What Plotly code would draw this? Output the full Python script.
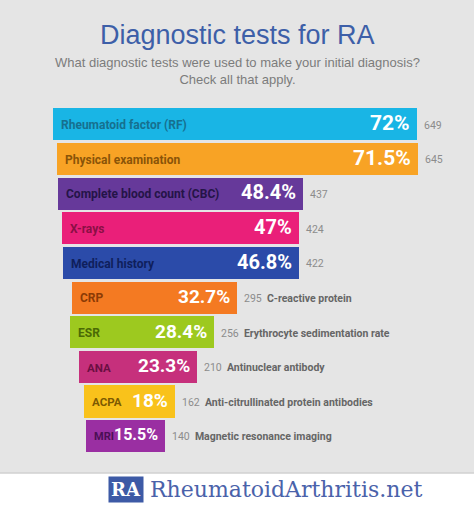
import plotly.graph_objects as go

# ---- data ----
tests = ["Rheumatoid factor (RF)", "Physical examination", "Complete blood count (CBC)",
         "X-rays", "Medical history", "CRP", "ESR", "ANA", "ACPA", "MRI"]
percents = [72, 71.5, 48.4, 47, 46.8, 32.7, 28.4, 23.3, 18, 15.5]
percent_labels = ["72%", "71.5%", "48.4%", "47%", "46.8%", "32.7%", "28.4%", "23.3%", "18%", "15.5%"]
counts = [649, 645, 437, 424, 422, 295, 256, 210, 162, 140]
descriptions = ["", "", "", "", "", "C-reactive protein", "Erythrocyte sedimentation rate",
                "Antinuclear antibody", "Anti-citrullinated protein antibodies",
                "Magnetic resonance imaging"]

# ---- styling ----
bar_colors = ["#19b5e5", "#f8a325", "#66399a", "#ea1f79", "#2b4ba9",
              "#f47a22", "#9dc91f", "#c6307c", "#f9c21b", "#9a2fa2"]
label_colors = ["#16708f", "#8a5408", "#241447", "#8a0f45", "#0f1f5c",
                "#8c3a05", "#4b6a05", "#6a0f42", "#7c5a02", "#4a0f55"]
row_indent = [0, 0.8, 1.0, 1.8, 2.0, 3.8, 3.4, 5.2, 6.2, 6.6]  # ribbon stagger
pct_sizes = [21, 21, 20, 20, 20, 19, 19, 19, 19, 16]
label_sizes = [12, 12, 12, 12, 12, 12, 12, 11.5, 11.5, 11]
COND = "Roboto, Liberation Sans, sans-serif"

fig = go.Figure()
fig.add_trace(go.Bar(
    y=tests, x=percents, base=row_indent, orientation="h",
    marker=dict(color=bar_colors, line=dict(width=0)),
    width=0.93, cliponaxis=False, hoverinfo="skip",
))

annotations = []
for t, v, b, c, lc, d, pl, ps, ls in zip(tests, percents, row_indent, counts, label_colors,
                                          descriptions, percent_labels, pct_sizes, label_sizes):
    annotations.append(dict(
        x=b, y=t, xref="x", yref="y", xanchor="left", yanchor="middle", xshift=6, yshift=-1,
        text=t, showarrow=False,
        font=dict(family=COND, size=ls, color=lc, weight="bold")))
    annotations.append(dict(
        x=b + v, y=t, xref="x", yref="y", xanchor="right", yanchor="middle", xshift=-5, yshift=1,
        text=pl, showarrow=False,
        font=dict(family=COND, size=ps, color="white", weight="bold")))
    txt = f"{c}"
    if d:
        txt += f"  <span style='color:#666666;font-weight:bold'>{d}</span>"
    annotations.append(dict(
        x=b + v, y=t, xref="x", yref="y", xanchor="left", yanchor="middle", xshift=5, yshift=-1,
        text=txt, showarrow=False,
        font=dict(family=COND, size=10.5, color="#8c8c8c")))

annotations += [
    dict(x=0.5, y=1 - 35 / 507, xref="paper", yref="paper", xanchor="center", yanchor="middle",
         text="Diagnostic tests for RA", showarrow=False,
         font=dict(family="Liberation Sans, Arial, sans-serif", size=27, color="#3d5fa8")),
    dict(x=0.5, y=1 - 71 / 507, xref="paper", yref="paper", xanchor="center", yanchor="middle",
         text="What diagnostic tests were used to make your initial diagnosis?<br>Check all that apply.",
         showarrow=False,
         font=dict(family="Liberation Sans, Arial, sans-serif", size=13, color="#7c7c7c")),
    dict(x=126 / 474, y=1 - 489 / 507, xref="paper", yref="paper", xanchor="center", yanchor="middle",
         text="<b>RA</b>", showarrow=False, bgcolor="#3d5aa6", borderpad=2,
         font=dict(family="DejaVu Serif, serif", size=18, color="white")),
    dict(x=148 / 474, y=1 - 489 / 507, xref="paper", yref="paper", xanchor="left", yanchor="middle",
         text="RheumatoidArthritis.net", showarrow=False,
         font=dict(family="DejaVu Serif, serif", size=22, color="#4a62aa")),
]

shapes = [
    dict(type="rect", xref="paper", yref="paper", x0=0, x1=1, y0=0, y1=34 / 507,
         fillcolor="white", line=dict(width=0), layer="below"),
    dict(type="line", xref="paper", yref="paper", x0=0, x1=1, y0=34 / 507, y1=34 / 507,
         line=dict(color="#d0d0d0", width=1.5), layer="below"),
]

fig.update_layout(
    width=474, height=507, margin=dict(l=0, r=0, t=0, b=0),
    paper_bgcolor="#e5e5e5", plot_bgcolor="rgba(0,0,0,0)",
    showlegend=False, bargap=0,
    xaxis=dict(range=[-10.5, 83.36], visible=False, fixedrange=True),
    yaxis=dict(categoryorder="array", categoryarray=tests, autorange="reversed",
               domain=[0.1059, 0.7895], visible=False, fixedrange=True),
    annotations=annotations, shapes=shapes,
)

fig.write_html("out.html")
